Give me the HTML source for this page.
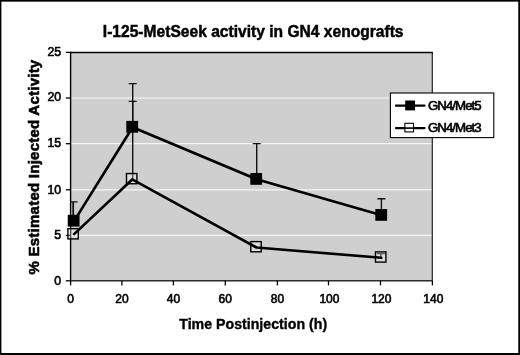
<!DOCTYPE html>
<html><head><meta charset="utf-8"><title>I-125-MetSeek activity in GN4 xenografts</title>
<style>
html,body{margin:0;padding:0;background:#fff}
body{width:520px;height:355px;position:relative;overflow:hidden;font-family:"Liberation Sans",Arial,Helvetica,sans-serif;color:#000}
.t{position:absolute;white-space:nowrap;font-size:12px;line-height:16px;-webkit-text-stroke:0.35px #000}
#title{-webkit-text-stroke:0.45px #000}
#yt{-webkit-text-stroke:0.55px #000}
.yl{font-size:12.3px;-webkit-text-stroke:0.6px #000}
.xl{font-size:12px;-webkit-text-stroke:0.6px #000}
.lg{letter-spacing:-0.9px;font-size:12.4px;-webkit-text-stroke:0.6px #000;transform:scaleX(1.07);transform-origin:0 0}
</style></head><body>
<svg width="520" height="355" viewBox="0 0 520 355" style="position:absolute;left:0;top:0">
<rect x="0" y="0" width="520" height="355" fill="#fff"/>
<rect x="0" y="0" width="520" height="1.65" fill="#000"/>
<rect x="0" y="353" width="520" height="2" fill="#000"/>
<rect x="0" y="0" width="1.4" height="355" fill="#000"/>
<rect x="518.3" y="0" width="1.7" height="355" fill="#000"/>
<defs><clipPath id="pc"><rect x="70.6" y="52.4" width="361.7" height="228.4"/></clipPath></defs>
<rect x="70.6" y="52.4" width="361.70" height="228.40" fill="#cfcfcf"/>
<line x1="70.6" x2="432.3" y1="235.4" y2="235.4" stroke="#f6f6f6" stroke-width="1.2"/>
<line x1="70.6" x2="432.3" y1="189.8" y2="189.8" stroke="#f6f6f6" stroke-width="1.2"/>
<line x1="70.6" x2="432.3" y1="143.7" y2="143.7" stroke="#f6f6f6" stroke-width="1.2"/>
<line x1="70.6" x2="432.3" y1="98.0" y2="98.0" stroke="#f6f6f6" stroke-width="1.2"/>
<path d="M432.3 280.8 V52.4" fill="none" stroke="#222" stroke-width="1.2"/>
<path d="M70.6 52.4 H432.9" fill="none" stroke="#000" stroke-width="1.5"/>
<path d="M70.6 51.7 V281.5" fill="none" stroke="#000" stroke-width="1.4"/>
<path d="M70.6 280.8 H432.9" fill="none" stroke="#2c2c2c" stroke-width="1.6"/>
<line x1="70.60" x2="70.60" y1="280.8" y2="285.4" stroke="#000" stroke-width="1.3"/>
<line x1="121.90" x2="121.90" y1="280.8" y2="285.4" stroke="#000" stroke-width="1.3"/>
<line x1="173.40" x2="173.40" y1="280.8" y2="285.4" stroke="#000" stroke-width="1.3"/>
<line x1="225.30" x2="225.30" y1="280.8" y2="285.4" stroke="#000" stroke-width="1.3"/>
<line x1="277.40" x2="277.40" y1="280.8" y2="285.4" stroke="#000" stroke-width="1.3"/>
<line x1="328.50" x2="328.50" y1="280.8" y2="285.4" stroke="#000" stroke-width="1.3"/>
<line x1="380.50" x2="380.50" y1="280.8" y2="285.4" stroke="#000" stroke-width="1.3"/>
<line x1="432.40" x2="432.40" y1="280.8" y2="285.4" stroke="#000" stroke-width="1.3"/>
<line x1="65.8" x2="70.6" y1="280.8" y2="280.8" stroke="#000" stroke-width="1.3"/>
<line x1="65.8" x2="70.6" y1="235.4" y2="235.4" stroke="#000" stroke-width="1.3"/>
<line x1="65.8" x2="70.6" y1="189.8" y2="189.8" stroke="#000" stroke-width="1.3"/>
<line x1="65.8" x2="70.6" y1="143.7" y2="143.7" stroke="#000" stroke-width="1.3"/>
<line x1="65.8" x2="70.6" y1="98.0" y2="98.0" stroke="#000" stroke-width="1.3"/>
<line x1="65.8" x2="70.6" y1="52.4" y2="52.4" stroke="#000" stroke-width="1.3"/>
<path d="M73.2 221 V201.9" fill="none" stroke="#111" stroke-width="1.8"/>
<path d="M69.20 201.9 H77.60" fill="none" stroke="#111" stroke-width="1.3" clip-path="url(#pc)"/>
<path d="M132.7 127 V83.6 M128.70 83.6 H136.70" fill="none" stroke="#111" stroke-width="1.4"/>
<path d="M256.7 179 V143.6 M252.70 143.6 H260.70" fill="none" stroke="#111" stroke-width="1.4"/>
<path d="M381.4 215 V198.8 M377.40 198.8 H385.40" fill="none" stroke="#111" stroke-width="1.4"/>
<path d="M132.7 179 V101.4 M128.70 101.4 H136.70" fill="none" stroke="#111" stroke-width="1.4"/>
<path d="M380.9 257 V253.6 M376.90 253.6 H384.90" fill="none" stroke="#111" stroke-width="1.4"/>
<rect x="67.90" y="228.70" width="10.4" height="10.2" fill="#fff" fill-opacity="0.3"/>
<rect x="126.50" y="173.55" width="10.4" height="10.2" fill="#fff" fill-opacity="0.3"/>
<rect x="250.80" y="241.60" width="10.4" height="10.2" fill="#fff" fill-opacity="0.3"/>
<rect x="375.50" y="251.90" width="10.4" height="10.2" fill="#fff" fill-opacity="0.3"/>
<polyline points="74.10,234.10 132.20,179.45 256.50,247.50 381.20,257.80" fill="none" stroke="#000" stroke-width="2.65" stroke-linejoin="round" stroke-linecap="round"/>
<polyline points="74.05,221.10 132.60,127.20 256.60,179.30 381.60,215.30" fill="none" stroke="#000" stroke-width="2.65" stroke-linejoin="round" stroke-linecap="round"/>
<rect x="67.90" y="228.70" width="10.4" height="10.2" fill="none" stroke="#000" stroke-width="1.4"/>
<rect x="126.50" y="173.55" width="10.4" height="10.2" fill="none" stroke="#000" stroke-width="1.4"/>
<rect x="250.80" y="241.60" width="10.4" height="10.2" fill="none" stroke="#000" stroke-width="1.4"/>
<rect x="375.50" y="251.90" width="10.4" height="10.2" fill="none" stroke="#000" stroke-width="1.4"/>
<rect x="67.75" y="214.80" width="11.8" height="11.8" fill="#000"/>
<rect x="126.30" y="120.90" width="11.8" height="11.8" fill="#000"/>
<rect x="250.30" y="173.00" width="11.8" height="11.8" fill="#000"/>
<rect x="375.30" y="209.00" width="11.8" height="11.8" fill="#000"/>
<rect x="390.4" y="93" width="103.4" height="44.6" fill="#fff" stroke="#000" stroke-width="1.1"/>
<line x1="396" x2="424.5" y1="105.7" y2="105.7" stroke="#000" stroke-width="2.3" stroke-linecap="round"/>
<rect x="405.2" y="100.5" width="9.8" height="9.9" fill="#000"/>
<line x1="396" x2="424.5" y1="128.1" y2="128.1" stroke="#000" stroke-width="2.3" stroke-linecap="round"/>
<rect x="404.9" y="123.3" width="8.6" height="8.6" fill="#fff"/>
<line x1="405" x2="413.5" y1="128.1" y2="128.1" stroke="#151515" stroke-width="1.8"/>
<rect x="404.9" y="123.3" width="8.6" height="8.6" fill="none" stroke="#000" stroke-width="1.1"/>
</svg>
<div class="t" id="title" style="left:53.2px;top:22px;width:400px;text-align:center;font-weight:bold;font-size:15.6px;line-height:20px">I-125-MetSeek activity in GN4 xenografts</div>
<div class="t" id="xt" style="left:53.2px;top:314px;width:400px;text-align:center;font-weight:bold;font-size:14.2px;line-height:20px">Time Postinjection (h)</div>
<div class="t" id="yt" style="left:-166.1px;top:156.7px;width:400px;text-align:center;font-weight:bold;font-size:15px;letter-spacing:0.245px;line-height:20px;transform:rotate(-90deg);transform-origin:50% 50%">% Estimated Injected Activity</div>
<div class="t yl" style="left:20.6px;top:273px;width:40.5px;text-align:right">0</div>
<div class="t yl" style="left:20.6px;top:227px;width:40.5px;text-align:right">5</div>
<div class="t yl" style="left:20.6px;top:182px;width:40.5px;text-align:right">10</div>
<div class="t yl" style="left:20.6px;top:135px;width:40.5px;text-align:right">15</div>
<div class="t yl" style="left:20.6px;top:89px;width:40.5px;text-align:right">20</div>
<div class="t yl" style="left:20.6px;top:44px;width:40.5px;text-align:right">25</div>
<div class="t xl" style="left:40.60px;top:290.6px;width:60px;text-align:center">0</div>
<div class="t xl" style="left:91.90px;top:290.6px;width:60px;text-align:center">20</div>
<div class="t xl" style="left:143.40px;top:290.6px;width:60px;text-align:center">40</div>
<div class="t xl" style="left:195.30px;top:290.6px;width:60px;text-align:center">60</div>
<div class="t xl" style="left:247.40px;top:290.6px;width:60px;text-align:center">80</div>
<div class="t xl" style="left:299.40px;top:290.6px;width:60px;text-align:center">100</div>
<div class="t xl" style="left:351.40px;top:290.6px;width:60px;text-align:center">120</div>
<div class="t xl" style="left:403.30px;top:290.6px;width:60px;text-align:center">140</div>
<div class="t lg" id="lg1" style="left:428.2px;top:98px">GN4/Met5</div>
<div class="t lg" id="lg2" style="left:428.2px;top:119.9px">GN4/Met3</div>
</body></html>
